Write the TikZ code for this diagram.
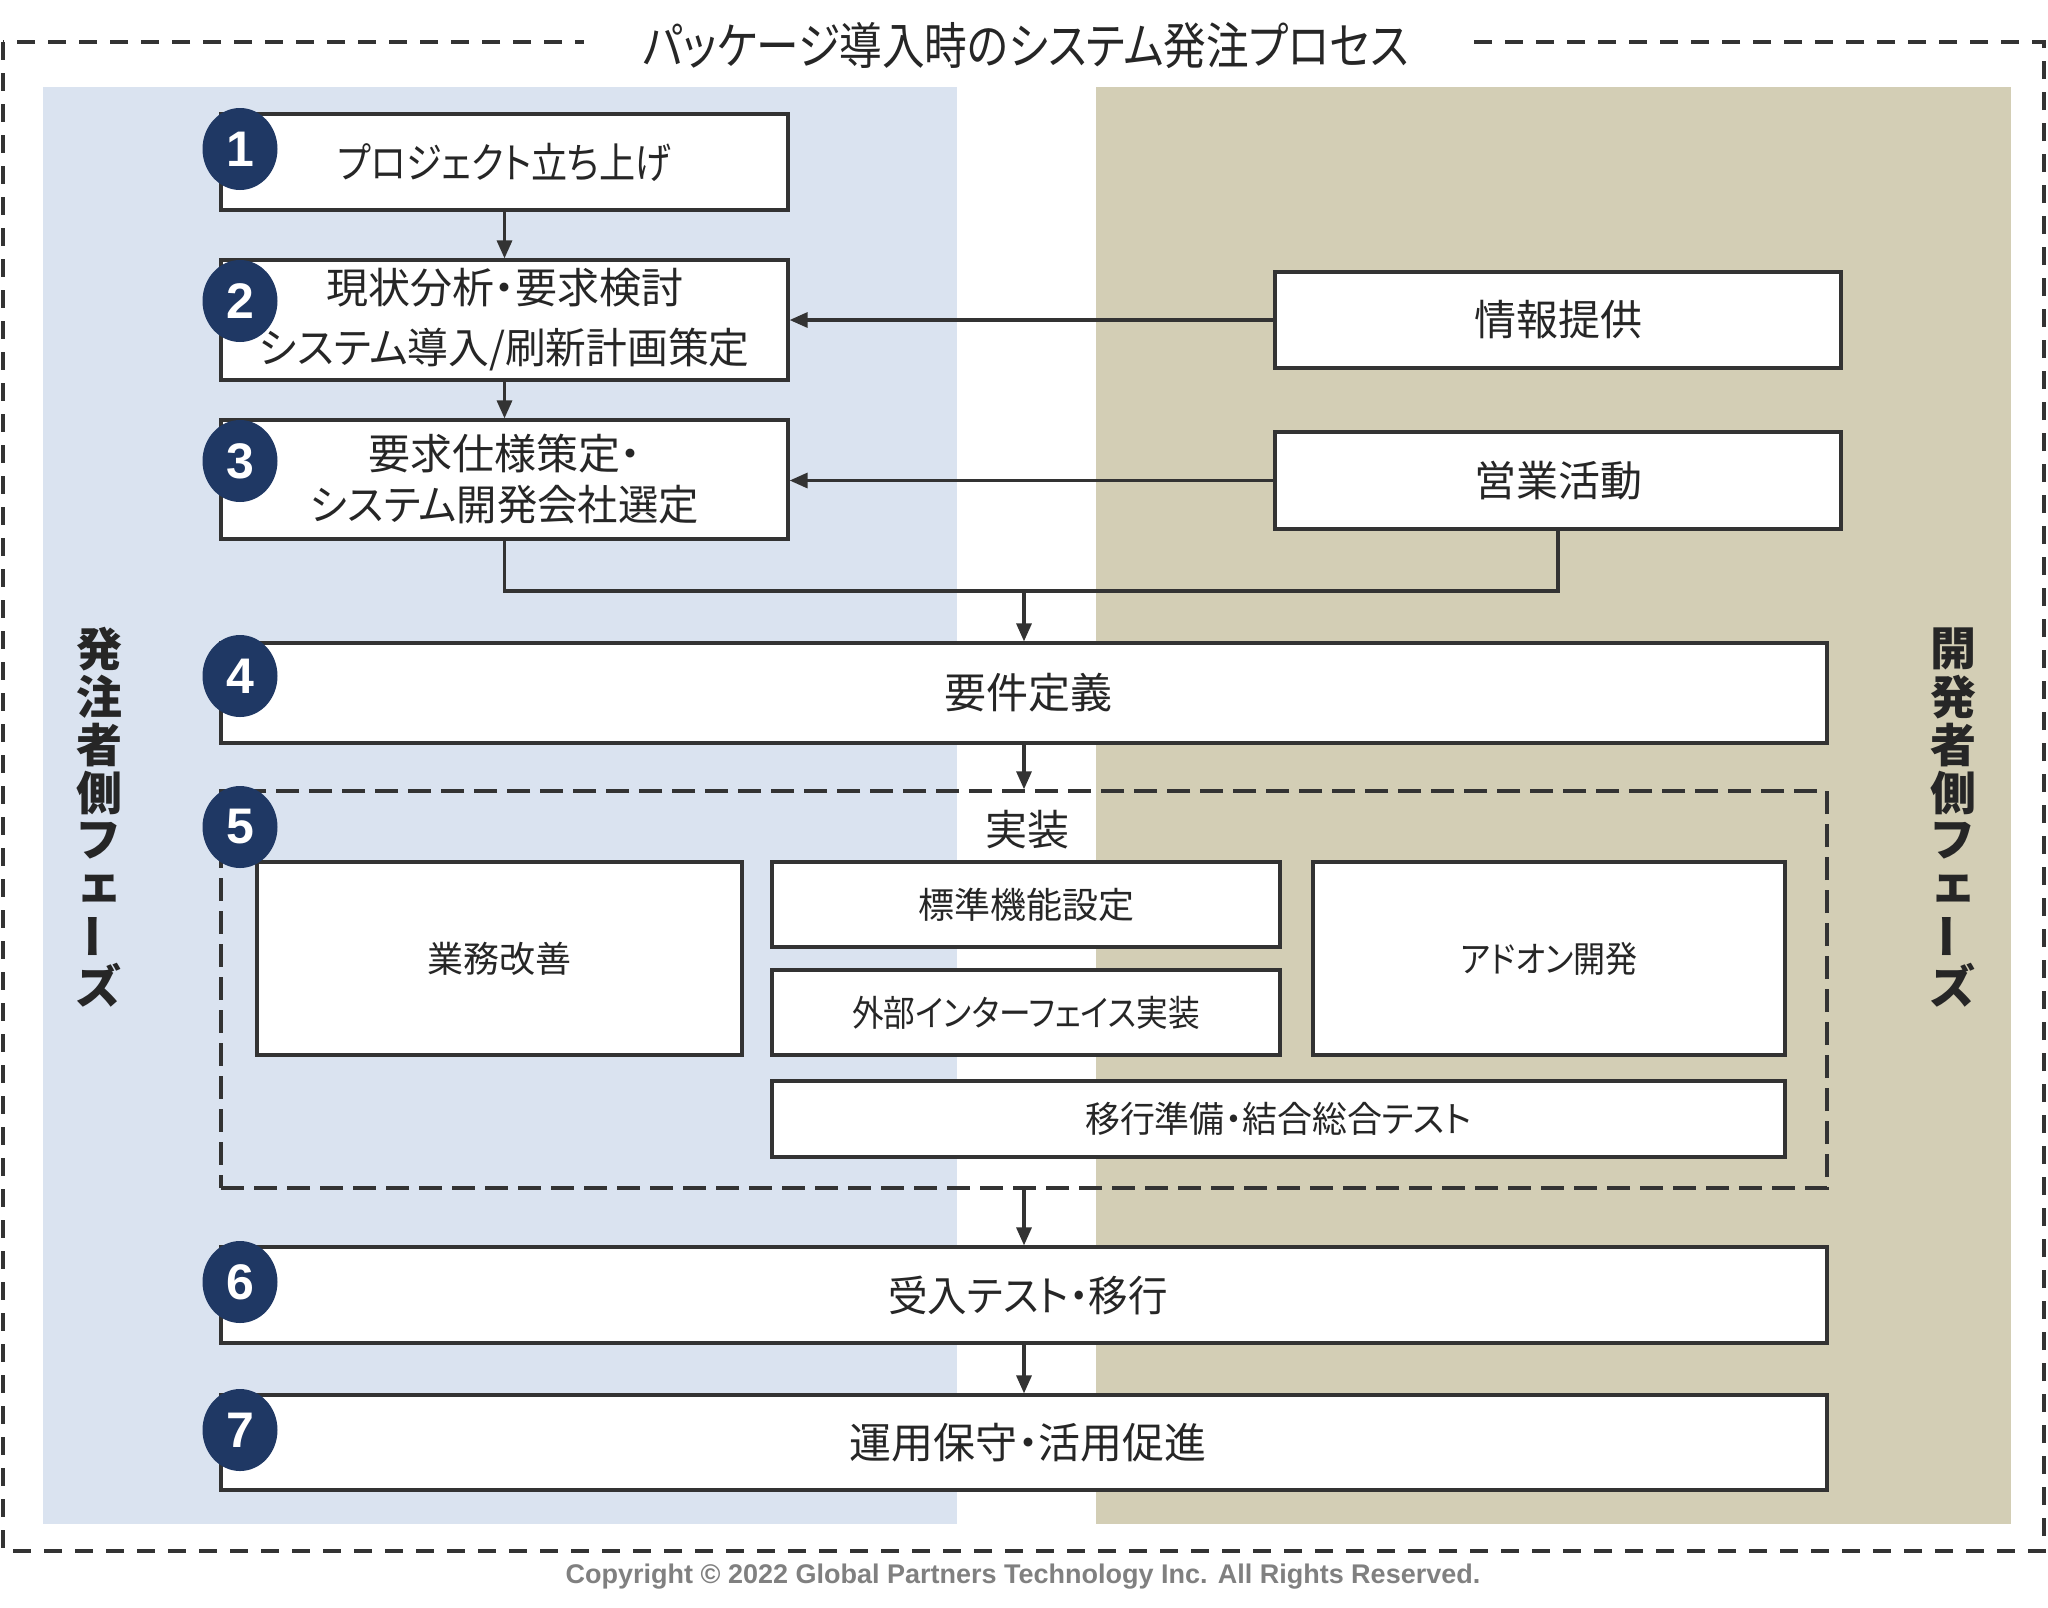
\documentclass[tikz,border=0pt]{standalone}
\usepackage{fontspec}
\setmainfont{Noto Sans CJK JP}[RawFeature=+palt]
\newfontfamily\latinfont{Liberation Sans}
\usetikzlibrary{fit,shapes.geometric,arrows.meta}
\definecolor{bluebg}{RGB}{218,227,240}
\definecolor{tanbg}{RGB}{211,206,181}
\definecolor{navy}{RGB}{31,56,100}
\definecolor{linec}{RGB}{51,51,51}
\definecolor{txt}{RGB}{38,38,38}
\definecolor{copyc}{RGB}{128,128,128}
\newcommand{\cond}[1]{\addfontfeature{FakeStretch=#1}}
\begin{document}
\begin{tikzpicture}[x=0.5pt,y=-0.5pt,
  box/.style={draw=linec, line width=1.6pt, fill=white, inner sep=0pt},
  dashbox/.style={draw=linec, line width=1.7pt, dash pattern=on 11.5pt off 5pt, inner sep=0pt},
  lbl/.style={inner sep=0pt, align=center, text=txt, font=\fontsize{21pt}{30pt}\selectfont},
  sublbl/.style={lbl, font=\fontsize{18pt}{22pt}\selectfont},
  num/.style={ellipse, fill=navy, minimum width=37.5pt, minimum height=41pt, inner sep=0pt,
    text=white, font=\latinfont\bfseries\fontsize{25pt}{25pt}\selectfont},
  arr/.style={draw=linec, line width=1.6pt, -{Triangle[length=9pt,width=7.5pt]}},
  conn/.style={draw=linec, line width=1.9pt},
  side/.style={text=txt, font=\bfseries\fontsize{23pt}{23pt}\selectfont, inner sep=0pt},
  frame/.style={draw=linec, line width=2pt, dash pattern=on 9pt off 6.5pt}
]
\useasboundingbox (0,0) rectangle (2048,1607);
% backgrounds
\fill[bluebg] (43,87) rectangle (957,1524);
\fill[tanbg] (1096,87) rectangle (2011,1524);
% outer frame and title
\draw[frame] (3,42) rectangle (2044,1551);
\node[fill=white, minimum width=442pt, minimum height=30pt, inner sep=0pt, text=txt,
  font=\fontsize{25pt}{25pt}\selectfont\cond{0.853}] (title) at (1026,46) {パッケージ導入時のシステム発注プロセス};
% boxes
\node[box, fit={(221,114)(788,210)}] (b1) {};
\node[lbl, font=\fontsize{21pt}{30pt}\selectfont\cond{0.86}] (b1t) at (b1.center) {プロジェクト立ち上げ};
\node[box, fit={(221,260)(788,380)}] (b2) {};
\node[lbl] (b2t) at (b2.center) {現状分析・要求検討\\{\cond{0.97}システム導入/刷新計画策定}};
\node[box, fit={(221,420)(788,539)}] (b3) {};
\node[lbl, font=\fontsize{21pt}{25.5pt}\selectfont] (b3t) at (b3.center) {要求仕様策定・\\{\cond{0.96}システム開発会社選定}};
\node[box, fit={(1275,272)(1841,368)}] (info) {};
\node[lbl] (infot) at (info.center) {情報提供};
\node[box, fit={(1275,432)(1841,529)}] (sales) {};
\node[lbl] (salest) at (sales.center) {営業活動};
\node[box, fit={(221,643)(1827,743)}] (b4) {};
\node[lbl] (b4t) at ([xshift=2pt]b4.center) {要件定義};
\node[dashbox, fit={(221,791)(1827,1188)}] (b5) {};
\node[lbl, font=\fontsize{21pt}{21pt}\selectfont] (impl) at (1027,830) {実装};
\node[box, fit={(257,862)(742,1055)}] (g1) {};
\node[sublbl] (g1t) at (g1.center) {業務改善};
\node[box, fit={(772,862)(1280,947)}] (g2) {};
\node[sublbl] (g2t) at (g2.center) {標準機能設定};
\node[box, fit={(772,970)(1280,1055)}] (g3) {};
\node[sublbl, font=\fontsize{18pt}{22pt}\selectfont\cond{0.88}] (g3t) at (g3.center) {外部インターフェイス実装};
\node[box, fit={(1313,862)(1785,1055)}] (g4) {};
\node[sublbl, font=\fontsize{18pt}{22pt}\selectfont\cond{0.89}] (g4t) at (g4.center) {アドオン開発};
\node[box, fit={(772,1081)(1785,1157)}] (g5) {};
\node[sublbl, font=\fontsize{18pt}{22pt}\selectfont\cond{0.97}] (g5t) at (g5.center) {移行準備・結合総合テスト};
\node[box, fit={(221,1247)(1827,1343)}] (b6) {};
\node[lbl, font=\fontsize{21pt}{30pt}\selectfont\cond{0.94}] (b6t) at ([xshift=2pt]b6.center) {受入テスト・移行};
\node[box, fit={(221,1395)(1827,1490)}] (b7) {};
\node[lbl] (b7t) at ([xshift=2pt]b7.center) {運用保守・活用促進};
% connectors
\draw[arr] (b1.south) -- (b2.north);
\draw[arr] (b2.south) -- (b3.north);
\draw[arr] (info.west) -- (info.west -| b2.east);
\draw[arr] (sales.west) -- (sales.west -| b3.east);
\coordinate (m) at (1024,591);
\draw[conn] (b3.south) |- (m) -| (sales.south);
\draw[arr] (m) -- (b4.north);
\draw[arr] (b4.south) -- (b5.north);
\draw[arr] (b5.south) -- (b6.north);
\draw[arr] (b6.south) -- (b7.north);
% numbers
\node[num] (n1) at (240,149) {1};
\node[num] (n2) at (240,301) {2};
\node[num] (n3) at (240,461) {3};
\node[num] (n4) at (240,676) {4};
\node[num] (n5) at (240,827) {5};
\node[num] (n6) at (240,1282) {6};
\node[num] (n7) at (240,1430) {7};
% side labels
\foreach \c/\r [count=\i from 0] in {発/0,注/0,者/0,側/0,フ/0,ェ/0,ー/90,ズ/0}
  \node[side, rotate=\r] (l\i) at (99,{649+48*\i}) {\c};
\foreach \c/\r [count=\i from 0] in {開/0,発/0,者/0,側/0,フ/0,ェ/0,ー/90,ズ/0}
  \node[side, rotate=\r] (r\i) at (1953,{649+48*\i}) {\c};
% copyright
\node[text=copyc, font=\latinfont\bfseries\fontsize{13.5pt}{14pt}\selectfont, inner sep=0pt] (copy) at (1023,1577)
  {Copyright © 2022 Global Partners Technology Inc. All Rights Reserved.};
\end{tikzpicture}
\end{document}
